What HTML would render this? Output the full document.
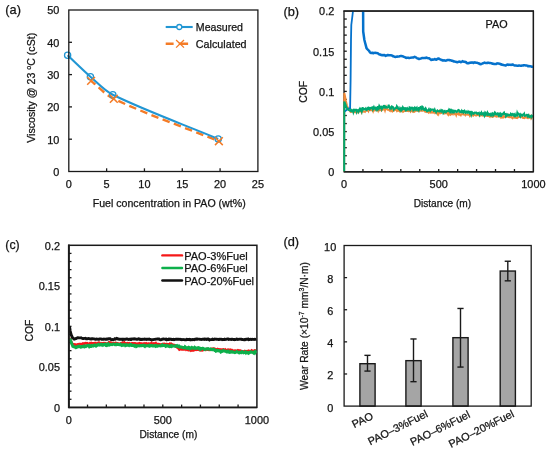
<!DOCTYPE html>
<html><head><meta charset="utf-8"><style>
html,body{margin:0;padding:0;background:#fff;width:550px;height:453px;overflow:hidden}
svg{display:block;will-change:transform}
text{font-family:"Liberation Sans", sans-serif;fill:#141414;stroke:#141414;stroke-width:0.25px}
</style></head><body>
<svg width="550" height="453" viewBox="0 0 550 453">
<rect width="550" height="453" fill="#fff"/>
<text x="5.30" y="13.90" font-size="12.4" text-anchor="start" textLength="15.6" lengthAdjust="spacingAndGlyphs" >(a)</text>
<text x="59.30" y="175.80" font-size="10.4" text-anchor="end" textLength="6.07" lengthAdjust="spacingAndGlyphs" >0</text>
<line x1="68.80" y1="139.20" x2="72.00" y2="139.20" stroke="#1a1a1a" stroke-width="1.3" />
<text x="59.30" y="143.50" font-size="10.4" text-anchor="end" textLength="12.14" lengthAdjust="spacingAndGlyphs" >10</text>
<line x1="68.80" y1="106.90" x2="72.00" y2="106.90" stroke="#1a1a1a" stroke-width="1.3" />
<text x="59.30" y="111.20" font-size="10.4" text-anchor="end" textLength="12.14" lengthAdjust="spacingAndGlyphs" >20</text>
<line x1="68.80" y1="74.60" x2="72.00" y2="74.60" stroke="#1a1a1a" stroke-width="1.3" />
<text x="59.30" y="78.90" font-size="10.4" text-anchor="end" textLength="12.14" lengthAdjust="spacingAndGlyphs" >30</text>
<line x1="68.80" y1="42.30" x2="72.00" y2="42.30" stroke="#1a1a1a" stroke-width="1.3" />
<text x="59.30" y="46.60" font-size="10.4" text-anchor="end" textLength="12.14" lengthAdjust="spacingAndGlyphs" >40</text>
<text x="59.30" y="14.30" font-size="10.4" text-anchor="end" textLength="12.14" lengthAdjust="spacingAndGlyphs" >50</text>
<text x="68.80" y="188.10" font-size="10.4" text-anchor="middle" textLength="6.07" lengthAdjust="spacingAndGlyphs" >0</text>
<line x1="106.62" y1="171.50" x2="106.62" y2="168.30" stroke="#1a1a1a" stroke-width="1.3" />
<text x="106.62" y="188.10" font-size="10.4" text-anchor="middle" textLength="6.07" lengthAdjust="spacingAndGlyphs" >5</text>
<line x1="144.44" y1="171.50" x2="144.44" y2="168.30" stroke="#1a1a1a" stroke-width="1.3" />
<text x="144.44" y="188.10" font-size="10.4" text-anchor="middle" textLength="12.14" lengthAdjust="spacingAndGlyphs" >10</text>
<line x1="182.26" y1="171.50" x2="182.26" y2="168.30" stroke="#1a1a1a" stroke-width="1.3" />
<text x="182.26" y="188.10" font-size="10.4" text-anchor="middle" textLength="12.14" lengthAdjust="spacingAndGlyphs" >15</text>
<line x1="220.08" y1="171.50" x2="220.08" y2="168.30" stroke="#1a1a1a" stroke-width="1.3" />
<text x="220.08" y="188.10" font-size="10.4" text-anchor="middle" textLength="12.14" lengthAdjust="spacingAndGlyphs" >20</text>
<text x="257.90" y="188.10" font-size="10.4" text-anchor="middle" textLength="12.14" lengthAdjust="spacingAndGlyphs" >25</text>
<text x="169.20" y="206.80" font-size="10.5" text-anchor="middle" textLength="153" lengthAdjust="spacingAndGlyphs" >Fuel concentration in PAO (wt%)</text>
<text transform="translate(34.9,87.8) rotate(-90)" font-size="10.4" text-anchor="middle" textLength="110" lengthAdjust="spacingAndGlyphs">Viscosity @ 23 <tspan font-size="7" dy="-3.6">o</tspan><tspan dy="3.6">C (cSt)</tspan></text>
<path d="M91.10,80.90 C98.67,86.87 105.14,94.71 113.80,98.80 C147.74,114.81 183.87,127.07 218.90,141.20" fill="none" stroke="#f47b26" stroke-width="2.4" stroke-dasharray="7.5,4.5" stroke-dashoffset="2"/>
<path d="M67.60,55.30 C75.20,62.43 82.56,69.85 90.40,76.70 C97.62,83.01 104.22,90.63 112.80,94.80 C146.82,111.36 183.07,124.20 218.20,138.90" fill="none" stroke="#2196d3" stroke-width="2.1"/>
<circle cx="67.60" cy="55.30" r="3.1" fill="none" stroke="#2196d3" stroke-width="1.3"/>
<circle cx="90.40" cy="76.70" r="3.1" fill="none" stroke="#2196d3" stroke-width="1.3"/>
<circle cx="112.80" cy="94.80" r="3.1" fill="none" stroke="#2196d3" stroke-width="1.3"/>
<circle cx="218.20" cy="138.90" r="3.1" fill="none" stroke="#2196d3" stroke-width="1.3"/>
<path d="M87.20,77.00 L95.00,84.80 M87.20,84.80 L95.00,77.00" stroke="#f47b26" stroke-width="1.5"/>
<path d="M109.90,94.90 L117.70,102.70 M109.90,102.70 L117.70,94.90" stroke="#f47b26" stroke-width="1.5"/>
<path d="M215.00,137.30 L222.80,145.10 M215.00,145.10 L222.80,137.30" stroke="#f47b26" stroke-width="1.5"/>
<rect x="68.8" y="10.0" width="189.10" height="161.50" fill="none" stroke="#1a1a1a" stroke-width="1.3"/>
<line x1="165.70" y1="27.00" x2="192.70" y2="27.00" stroke="#2196d3" stroke-width="2.1" />
<circle cx="179.3" cy="27" r="2.5" fill="#fff" stroke="#2196d3" stroke-width="1.3"/>
<text x="195.80" y="30.90" font-size="10.5" text-anchor="start" textLength="47.2" lengthAdjust="spacingAndGlyphs" >Measured</text>
<path d="M165.7,43.7 L173.6,43.7 M178.8,43.7 L188.1,43.7" stroke="#f47b26" stroke-width="2.4"/>
<path d="M176.1,40 L184,47.6 M176.1,47.6 L184,40" stroke="#f47b26" stroke-width="1.3"/>
<text x="195.80" y="47.60" font-size="10.5" text-anchor="start" textLength="50.8" lengthAdjust="spacingAndGlyphs" >Calculated</text>
<text x="283.40" y="15.60" font-size="12.4" text-anchor="start" textLength="15.6" lengthAdjust="spacingAndGlyphs" >(b)</text>
<text x="334.30" y="176.10" font-size="10.4" text-anchor="end" textLength="6.07" lengthAdjust="spacingAndGlyphs" >0</text>
<text x="334.30" y="135.90" font-size="10.4" text-anchor="end" textLength="21.25" lengthAdjust="spacingAndGlyphs" >0.05</text>
<text x="334.30" y="95.70" font-size="10.4" text-anchor="end" textLength="15.18" lengthAdjust="spacingAndGlyphs" >0.1</text>
<text x="334.30" y="55.50" font-size="10.4" text-anchor="end" textLength="21.25" lengthAdjust="spacingAndGlyphs" >0.15</text>
<text x="334.30" y="15.30" font-size="10.4" text-anchor="end" textLength="15.18" lengthAdjust="spacingAndGlyphs" >0.2</text>
<text x="344.00" y="187.90" font-size="10.4" text-anchor="middle" textLength="6.07" lengthAdjust="spacingAndGlyphs" >0</text>
<text x="438.70" y="187.90" font-size="10.4" text-anchor="middle" textLength="18.21" lengthAdjust="spacingAndGlyphs" >500</text>
<text x="533.40" y="187.90" font-size="10.4" text-anchor="middle" textLength="24.29" lengthAdjust="spacingAndGlyphs" >1000</text>
<text x="442.40" y="206.70" font-size="10.4" text-anchor="middle" textLength="57.5" lengthAdjust="spacingAndGlyphs" >Distance (m)</text>
<text transform="translate(307.0,91.9) rotate(-90)" font-size="10.4" text-anchor="middle">COF</text>
<text x="485.60" y="27.50" font-size="10.6" text-anchor="start" textLength="22" lengthAdjust="spacingAndGlyphs" >PAO</text>
<line x1="344.00" y1="163.76" x2="346.80" y2="163.76" stroke="#1a1a1a" stroke-width="1.3" />
<line x1="344.00" y1="155.72" x2="346.80" y2="155.72" stroke="#1a1a1a" stroke-width="1.3" />
<line x1="344.00" y1="147.68" x2="346.80" y2="147.68" stroke="#1a1a1a" stroke-width="1.3" />
<line x1="344.00" y1="139.64" x2="346.80" y2="139.64" stroke="#1a1a1a" stroke-width="1.3" />
<line x1="344.00" y1="131.60" x2="346.80" y2="131.60" stroke="#1a1a1a" stroke-width="1.3" />
<line x1="344.00" y1="123.56" x2="346.80" y2="123.56" stroke="#1a1a1a" stroke-width="1.3" />
<line x1="344.00" y1="115.52" x2="346.80" y2="115.52" stroke="#1a1a1a" stroke-width="1.3" />
<line x1="344.00" y1="107.48" x2="346.80" y2="107.48" stroke="#1a1a1a" stroke-width="1.3" />
<line x1="344.00" y1="99.44" x2="346.80" y2="99.44" stroke="#1a1a1a" stroke-width="1.3" />
<line x1="344.00" y1="91.40" x2="346.80" y2="91.40" stroke="#1a1a1a" stroke-width="1.3" />
<line x1="344.00" y1="83.36" x2="346.80" y2="83.36" stroke="#1a1a1a" stroke-width="1.3" />
<line x1="344.00" y1="75.32" x2="346.80" y2="75.32" stroke="#1a1a1a" stroke-width="1.3" />
<line x1="344.00" y1="67.28" x2="346.80" y2="67.28" stroke="#1a1a1a" stroke-width="1.3" />
<line x1="344.00" y1="59.24" x2="346.80" y2="59.24" stroke="#1a1a1a" stroke-width="1.3" />
<line x1="344.00" y1="51.20" x2="346.80" y2="51.20" stroke="#1a1a1a" stroke-width="1.3" />
<line x1="344.00" y1="43.16" x2="346.80" y2="43.16" stroke="#1a1a1a" stroke-width="1.3" />
<line x1="344.00" y1="35.12" x2="346.80" y2="35.12" stroke="#1a1a1a" stroke-width="1.3" />
<line x1="344.00" y1="27.08" x2="346.80" y2="27.08" stroke="#1a1a1a" stroke-width="1.3" />
<line x1="344.00" y1="19.04" x2="346.80" y2="19.04" stroke="#1a1a1a" stroke-width="1.3" />
<line x1="362.94" y1="171.80" x2="362.94" y2="169.00" stroke="#1a1a1a" stroke-width="1.3" />
<line x1="381.88" y1="171.80" x2="381.88" y2="169.00" stroke="#1a1a1a" stroke-width="1.3" />
<line x1="400.82" y1="171.80" x2="400.82" y2="169.00" stroke="#1a1a1a" stroke-width="1.3" />
<line x1="419.76" y1="171.80" x2="419.76" y2="169.00" stroke="#1a1a1a" stroke-width="1.3" />
<line x1="438.70" y1="171.80" x2="438.70" y2="169.00" stroke="#1a1a1a" stroke-width="1.3" />
<line x1="457.64" y1="171.80" x2="457.64" y2="169.00" stroke="#1a1a1a" stroke-width="1.3" />
<line x1="476.58" y1="171.80" x2="476.58" y2="169.00" stroke="#1a1a1a" stroke-width="1.3" />
<line x1="495.52" y1="171.80" x2="495.52" y2="169.00" stroke="#1a1a1a" stroke-width="1.3" />
<line x1="514.46" y1="171.80" x2="514.46" y2="169.00" stroke="#1a1a1a" stroke-width="1.3" />
<rect x="344.0" y="11.0" width="189.40" height="160.80" fill="none" stroke="#1a1a1a" stroke-width="1.3"/>
<path d="M344.20,171.50 L344.30,93.00 L345.00,96.00 L345.80,100.50 L346.40,103.00 L347.00,105.50 L347.50,106.83 L348.00,108.17 L348.50,109.50 L349.02,110.10 L349.55,110.70 L350.08,111.30 L350.60,111.90 L351.15,111.55 L351.70,111.73 L352.25,111.81 L352.80,111.38 L353.35,111.21 L353.90,111.16 L354.45,112.00 L355.00,112.35 L355.50,112.27 L356.00,112.42 L356.50,111.62 L357.00,112.04 L357.50,112.31 L358.00,112.63 L358.50,111.76 L359.00,111.71 L359.50,110.72 L360.00,111.24 L360.50,110.38 L361.00,110.52 L361.50,111.96 L362.00,110.45 L362.50,111.66 L363.00,111.71 L363.50,111.31 L364.00,111.58 L364.50,111.66 L365.00,111.92 L365.50,111.23 L366.00,110.76 L366.50,110.57 L367.00,110.24 L367.50,110.63 L368.00,110.28 L368.50,111.20 L369.00,109.76 L369.50,109.73 L370.00,109.76 L370.50,109.08 L371.00,111.12 L371.50,109.23 L372.00,109.84 L372.50,109.84 L373.00,111.06 L373.50,109.30 L374.00,110.48 L374.50,109.76 L375.00,109.84 L375.50,109.53 L376.00,110.15 L376.50,109.27 L377.00,109.58 L377.50,109.92 L378.00,110.86 L378.50,108.70 L379.00,110.29 L379.50,110.43 L380.00,109.64 L380.50,109.84 L381.00,109.45 L381.50,110.53 L382.00,110.02 L382.50,109.61 L383.00,109.47 L383.50,109.43 L384.00,109.42 L384.50,109.00 L385.00,110.55 L385.50,108.73 L386.00,107.20 L386.50,108.79 L387.00,109.29 L387.50,109.78 L388.00,109.63 L388.50,109.65 L389.00,109.97 L389.50,110.47 L390.00,109.85 L390.50,109.74 L391.00,111.07 L391.50,110.69 L392.00,109.75 L392.50,111.40 L393.00,111.05 L393.50,110.20 L394.00,109.64 L394.50,110.36 L395.00,109.96 L395.50,109.75 L396.00,109.57 L396.50,110.00 L397.00,111.08 L397.50,110.55 L398.00,109.83 L398.50,110.86 L399.00,110.85 L399.50,111.32 L400.00,111.69 L400.50,111.04 L401.00,110.89 L401.50,110.93 L402.00,110.35 L402.50,111.23 L403.00,111.92 L403.50,111.47 L404.00,111.13 L404.50,111.04 L405.01,110.71 L405.51,110.59 L406.02,110.79 L406.52,110.59 L407.03,110.77 L407.53,110.17 L408.04,111.09 L408.54,111.20 L409.05,110.54 L409.56,109.69 L410.06,110.74 L410.57,111.69 L411.07,110.93 L411.58,110.84 L412.08,110.77 L412.59,111.44 L413.09,110.75 L413.60,111.63 L414.11,111.11 L414.61,111.62 L415.12,111.22 L415.62,110.92 L416.13,110.08 L416.63,110.25 L417.14,110.50 L417.64,111.07 L418.15,110.97 L418.66,110.37 L419.16,110.78 L419.67,111.21 L420.17,110.65 L420.68,110.28 L421.18,110.16 L421.69,110.78 L422.19,110.77 L422.70,109.89 L423.23,110.58 L423.76,110.43 L424.29,110.37 L424.82,111.62 L425.35,111.89 L425.88,111.22 L426.41,111.61 L426.94,112.10 L427.47,111.73 L428.00,112.05 L428.50,112.56 L429.00,111.32 L429.50,112.18 L430.00,112.68 L430.50,112.72 L431.00,111.69 L431.50,112.34 L432.00,111.88 L432.50,112.58 L433.00,112.82 L433.50,112.69 L434.00,112.10 L434.50,112.04 L435.00,112.87 L435.50,112.13 L436.00,112.72 L436.50,112.92 L437.00,112.54 L437.50,113.99 L438.01,113.12 L438.51,114.08 L439.02,112.01 L439.52,111.28 L440.03,112.94 L440.53,113.26 L441.04,112.85 L441.54,112.89 L442.05,111.88 L442.55,112.33 L443.06,112.26 L443.56,112.73 L444.07,113.53 L444.57,113.32 L445.08,113.47 L445.58,112.93 L446.09,112.94 L446.59,113.28 L447.10,113.19 L447.60,114.07 L448.10,113.14 L448.61,114.47 L449.11,113.25 L449.62,114.08 L450.12,113.31 L450.63,114.49 L451.13,114.00 L451.64,114.03 L452.14,114.27 L452.65,113.57 L453.15,113.16 L453.66,112.50 L454.16,114.19 L454.67,113.62 L455.17,113.54 L455.68,113.86 L456.18,115.14 L456.69,113.42 L457.19,114.07 L457.70,113.92 L458.20,114.43 L458.71,113.26 L459.21,113.72 L459.72,114.58 L460.22,115.27 L460.73,115.51 L461.23,114.19 L461.74,114.33 L462.24,114.29 L462.75,113.57 L463.26,113.33 L463.76,114.53 L464.27,114.61 L464.77,114.42 L465.28,115.16 L465.78,114.12 L466.29,114.70 L466.79,114.59 L467.30,114.53 L467.81,114.85 L468.31,114.77 L468.82,114.82 L469.32,114.84 L469.83,115.82 L470.33,114.84 L470.84,115.32 L471.34,115.24 L471.85,114.69 L472.36,115.19 L472.86,114.41 L473.37,115.34 L473.87,114.51 L474.38,114.45 L474.88,114.92 L475.39,115.36 L475.89,115.55 L476.40,115.61 L476.90,115.03 L477.41,114.44 L477.91,115.15 L478.41,115.24 L478.91,114.57 L479.42,115.50 L479.92,115.35 L480.42,114.67 L480.92,115.28 L481.43,114.48 L481.93,114.52 L482.43,115.28 L482.94,114.41 L483.44,115.08 L483.94,114.51 L484.44,115.56 L484.95,115.05 L485.45,115.44 L485.95,114.62 L486.46,115.06 L486.96,115.95 L487.46,115.96 L487.96,114.67 L488.47,115.88 L488.97,116.25 L489.47,115.65 L489.98,116.52 L490.48,115.39 L490.98,115.63 L491.48,116.41 L491.99,116.77 L492.49,116.89 L492.99,115.59 L493.49,114.82 L494.00,115.86 L494.50,115.15 L495.01,115.71 L495.51,115.24 L496.02,116.47 L496.52,116.71 L497.03,116.67 L497.53,116.37 L498.04,116.33 L498.54,116.14 L499.05,116.50 L499.56,116.56 L500.06,116.72 L500.57,116.28 L501.07,117.51 L501.58,116.98 L502.08,117.48 L502.59,117.62 L503.09,116.42 L503.60,115.63 L504.11,117.10 L504.61,116.62 L505.12,116.78 L505.62,116.65 L506.13,116.86 L506.63,116.20 L507.14,116.64 L507.64,116.60 L508.15,116.86 L508.66,115.64 L509.16,117.11 L509.67,117.29 L510.17,116.19 L510.68,116.46 L511.18,117.00 L511.69,117.53 L512.19,117.35 L512.70,118.12 L513.21,117.56 L513.72,116.81 L514.22,116.76 L514.73,117.56 L515.24,117.03 L515.75,117.70 L516.25,118.00 L516.76,117.85 L517.27,118.05 L517.78,117.42 L518.28,117.33 L518.79,116.97 L519.30,116.85 L519.81,116.27 L520.31,116.67 L520.82,116.50 L521.33,116.24 L521.84,117.07 L522.34,117.49 L522.85,117.16 L523.36,118.04 L523.87,118.06 L524.37,118.13 L524.88,117.20 L525.39,116.42 L525.89,117.35 L526.40,117.49 L526.91,117.77 L527.42,117.68 L527.92,118.14 L528.43,117.39 L528.94,117.71 L529.45,116.91 L529.96,115.86 L530.46,116.61 L530.97,117.95 L531.48,116.54 L531.99,117.65 L532.49,117.02 L533.00,116.99" fill="none" stroke="#f08a3a" stroke-width="1.9"/>
<path d="M344.60,111.50 L348.40,108.60 L350.10,108.20 L350.60,80.00 L351.00,40.00 L351.30,25.00 L352.40,16.00 L353.60,6.00" fill="none" stroke="#0572cc" stroke-width="1.8"/>
<path d="M363.10,6.00 L363.20,31.50 L364.40,40.00 L365.10,42.70 L365.80,45.40 L366.50,48.10 L367.12,48.83 L367.73,49.57 L368.35,50.18 L368.97,50.73 L369.58,51.75 L370.20,52.58 L370.81,52.89 L371.42,52.97 L372.02,52.83 L372.63,52.76 L373.24,53.29 L373.85,53.05 L374.46,52.86 L375.07,52.72 L375.68,52.92 L376.28,53.06 L376.89,53.06 L377.50,53.15 L378.11,53.54 L378.73,53.97 L379.34,54.42 L379.96,54.64 L380.57,54.52 L381.19,55.09 L381.80,55.13 L382.42,55.21 L383.04,54.99 L383.66,55.15 L384.29,55.08 L384.91,55.21 L385.53,55.86 L386.15,55.54 L386.77,55.53 L387.39,55.11 L388.01,55.08 L388.64,55.24 L389.26,55.16 L389.88,55.20 L390.50,55.16 L391.14,55.18 L391.79,55.61 L392.43,55.69 L393.07,56.36 L393.71,56.36 L394.36,56.71 L395.00,56.88 L395.65,56.93 L396.31,56.61 L396.96,56.72 L397.62,56.51 L398.27,56.62 L398.93,56.51 L399.58,56.32 L400.24,56.00 L400.89,56.09 L401.55,56.04 L402.20,56.19 L402.81,56.24 L403.43,56.59 L404.04,56.92 L404.66,57.20 L405.27,57.48 L405.89,57.78 L406.50,57.93 L407.13,57.69 L407.76,57.64 L408.39,57.76 L409.01,57.95 L409.64,57.91 L410.27,57.85 L410.90,57.73 L411.53,57.61 L412.16,57.41 L412.79,57.38 L413.41,57.51 L414.04,57.14 L414.67,56.84 L415.30,57.15 L416.02,57.47 L416.75,58.00 L417.48,58.46 L418.20,58.54 L418.82,58.96 L419.44,59.00 L420.06,58.68 L420.69,58.58 L421.31,58.38 L421.93,58.05 L422.55,57.99 L423.17,58.01 L423.79,58.13 L424.41,58.07 L425.04,57.87 L425.66,57.98 L426.28,57.60 L426.90,57.66 L427.53,58.11 L428.16,58.22 L428.79,58.15 L429.41,58.44 L430.04,58.96 L430.67,59.43 L431.30,60.02 L431.97,59.61 L432.64,59.57 L433.31,59.64 L433.99,59.50 L434.66,58.98 L435.33,59.29 L436.00,59.71 L436.68,59.47 L437.35,58.87 L438.02,58.56 L438.70,58.41 L439.36,59.16 L440.01,59.33 L440.67,59.46 L441.33,59.94 L441.99,60.01 L442.64,60.56 L443.30,60.49 L443.95,60.34 L444.61,60.48 L445.26,60.67 L445.92,60.62 L446.57,60.51 L447.23,60.04 L447.88,60.01 L448.54,60.01 L449.19,60.01 L449.85,60.22 L450.50,60.14 L451.11,60.52 L451.72,60.67 L452.33,60.77 L452.94,61.01 L453.56,61.29 L454.17,61.61 L454.78,61.61 L455.39,61.76 L456.00,61.72 L456.61,62.13 L457.22,62.29 L457.82,62.05 L458.43,61.85 L459.04,61.59 L459.65,61.71 L460.26,61.76 L460.87,62.15 L461.48,61.95 L462.08,61.65 L462.69,61.16 L463.30,61.63 L463.98,61.84 L464.65,61.69 L465.32,62.06 L466.00,61.99 L466.68,63.02 L467.35,63.18 L468.02,63.25 L468.70,63.23 L469.31,62.71 L469.92,62.81 L470.52,62.56 L471.13,62.82 L471.74,62.40 L472.35,62.40 L472.96,62.78 L473.57,63.03 L474.18,62.59 L474.78,62.28 L475.39,62.56 L476.00,62.67 L476.60,62.64 L477.20,62.82 L477.80,63.03 L478.40,63.16 L479.00,63.45 L479.60,64.09 L480.23,64.06 L480.86,64.25 L481.49,63.88 L482.12,63.62 L482.75,63.28 L483.38,63.21 L484.02,62.89 L484.65,62.59 L485.28,62.85 L485.91,63.07 L486.54,63.00 L487.17,63.00 L487.80,62.74 L488.46,62.70 L489.11,62.94 L489.77,63.08 L490.43,63.11 L491.09,63.13 L491.74,63.28 L492.40,63.75 L493.00,63.86 L493.60,63.78 L494.20,64.08 L494.80,63.97 L495.40,63.97 L496.00,64.07 L496.60,63.71 L497.20,63.29 L497.80,63.58 L498.40,63.43 L499.00,63.72 L499.60,63.65 L500.22,64.07 L500.83,64.38 L501.45,64.14 L502.07,64.71 L502.68,64.88 L503.30,65.09 L503.91,65.07 L504.51,65.27 L505.12,65.38 L505.73,65.43 L506.33,64.93 L506.94,64.86 L507.55,64.47 L508.15,64.68 L508.76,64.91 L509.37,64.74 L509.97,64.83 L510.58,64.85 L511.19,64.99 L511.79,64.69 L512.40,64.52 L513.07,64.60 L513.75,65.19 L514.42,65.43 L515.10,65.38 L515.77,65.50 L516.45,65.60 L517.12,65.74 L517.80,65.80 L518.40,65.69 L519.00,65.45 L519.60,65.42 L520.20,65.82 L520.80,65.79 L521.40,65.66 L522.00,65.52 L522.60,65.49 L523.20,65.50 L523.80,65.30 L524.40,65.34 L525.00,65.34 L525.62,65.38 L526.23,65.49 L526.85,65.60 L527.47,65.75 L528.08,66.29 L528.70,66.05 L529.36,66.25 L530.01,66.30 L530.67,66.34 L531.33,66.51 L531.99,66.81 L532.64,66.77 L533.30,66.72" fill="none" stroke="#0572cc" stroke-width="2.5" stroke-linejoin="round"/>
<path d="M344.20,171.50 L344.30,101.50 L344.90,103.00 L345.50,104.50 L346.00,106.00 L346.50,107.50 L347.00,108.17 L347.50,108.83 L348.00,109.50 L348.52,109.76 L349.04,110.02 L349.56,110.28 L350.08,110.54 L350.60,110.80 L351.07,109.75 L351.53,110.26 L352.00,111.12 L352.47,110.70 L352.93,110.22 L353.40,112.15 L353.87,110.71 L354.33,109.94 L354.80,110.36 L355.27,109.84 L355.73,109.82 L356.20,109.80 L356.67,111.63 L357.13,110.27 L357.60,110.14 L358.07,110.47 L358.53,111.53 L359.00,109.87 L359.45,109.25 L359.90,111.55 L360.35,108.73 L360.80,109.12 L361.25,109.94 L361.70,111.29 L362.15,108.88 L362.60,107.29 L363.05,109.44 L363.50,108.77 L363.95,108.72 L364.40,109.33 L364.85,109.18 L365.30,109.15 L365.75,108.52 L366.20,109.73 L366.65,110.03 L367.10,108.86 L367.55,108.24 L368.00,109.03 L368.45,108.91 L368.90,107.65 L369.35,107.87 L369.80,109.06 L370.25,108.29 L370.70,107.95 L371.15,108.28 L371.60,108.09 L372.05,108.05 L372.50,106.47 L372.95,109.10 L373.40,108.23 L373.85,107.21 L374.30,108.48 L374.75,108.10 L375.20,107.77 L375.65,108.49 L376.10,109.51 L376.55,108.27 L377.00,108.86 L377.45,109.39 L377.90,106.93 L378.35,106.93 L378.80,107.94 L379.25,106.11 L379.70,106.95 L380.15,108.29 L380.60,108.27 L381.05,107.88 L381.50,105.84 L381.95,108.87 L382.40,107.88 L382.85,107.88 L383.30,107.65 L383.75,105.84 L384.20,105.77 L384.65,105.91 L385.10,108.39 L385.55,106.57 L386.00,106.74 L386.45,106.81 L386.90,107.51 L387.36,107.60 L387.81,107.47 L388.26,106.28 L388.71,104.66 L389.17,107.07 L389.62,107.55 L390.07,108.43 L390.52,107.54 L390.98,107.05 L391.43,107.83 L391.88,106.43 L392.33,106.66 L392.79,106.77 L393.24,107.85 L393.69,109.48 L394.14,108.71 L394.60,108.94 L395.05,108.30 L395.50,108.27 L395.95,107.74 L396.40,107.83 L396.85,106.19 L397.30,106.95 L397.75,107.05 L398.20,108.78 L398.65,108.95 L399.10,109.39 L399.55,109.83 L400.00,108.47 L400.45,109.38 L400.90,110.27 L401.35,108.89 L401.80,109.60 L402.25,108.75 L402.70,107.53 L403.15,108.75 L403.60,108.24 L404.05,108.94 L404.50,108.63 L404.95,109.20 L405.41,107.34 L405.87,110.40 L406.32,110.29 L406.77,108.92 L407.23,108.27 L407.69,108.89 L408.14,109.52 L408.60,109.41 L409.05,109.38 L409.50,107.50 L409.96,107.88 L410.42,109.89 L410.87,109.32 L411.33,107.85 L411.78,108.14 L412.24,107.73 L412.69,108.00 L413.15,109.78 L413.60,108.94 L414.06,109.84 L414.51,109.18 L414.97,107.69 L415.42,108.11 L415.88,110.48 L416.33,108.35 L416.79,107.75 L417.24,109.46 L417.69,108.75 L418.15,108.53 L418.61,109.63 L419.06,107.16 L419.51,108.50 L419.97,107.47 L420.43,107.00 L420.88,107.36 L421.33,108.95 L421.79,108.11 L422.25,106.57 L422.70,106.88 L423.18,109.28 L423.66,109.42 L424.15,107.92 L424.63,110.72 L425.11,109.07 L425.59,108.34 L426.07,109.27 L426.55,110.46 L427.04,111.37 L427.52,111.23 L428.00,110.21 L428.45,109.95 L428.90,109.21 L429.35,110.24 L429.80,110.00 L430.25,110.67 L430.70,109.57 L431.15,110.04 L431.60,109.84 L432.05,109.58 L432.50,109.58 L432.95,109.74 L433.40,109.65 L433.85,111.08 L434.30,110.94 L434.75,109.80 L435.20,111.14 L435.65,111.18 L436.10,112.16 L436.55,111.00 L437.00,110.83 L437.45,110.43 L437.90,111.03 L438.35,111.43 L438.81,111.24 L439.26,110.87 L439.71,111.49 L440.16,111.21 L440.61,111.30 L441.06,110.36 L441.52,111.16 L441.97,110.31 L442.42,110.31 L442.87,111.14 L443.32,112.84 L443.77,112.21 L444.23,111.32 L444.68,111.04 L445.13,111.96 L445.58,112.42 L446.03,112.37 L446.48,111.23 L446.94,111.37 L447.39,110.98 L447.84,110.96 L448.29,110.51 L448.74,110.94 L449.19,109.47 L449.65,110.03 L450.10,111.44 L450.55,110.56 L451.00,111.63 L451.45,110.30 L451.90,110.85 L452.35,111.55 L452.80,110.50 L453.25,110.60 L453.70,113.20 L454.15,111.03 L454.60,110.69 L455.05,110.74 L455.50,111.24 L455.95,111.27 L456.40,112.09 L456.85,112.06 L457.30,111.09 L457.75,110.98 L458.20,110.11 L458.65,109.91 L459.10,110.49 L459.55,111.77 L460.00,111.47 L460.45,111.97 L460.90,112.16 L461.35,111.30 L461.80,113.00 L462.25,111.13 L462.70,110.77 L463.15,110.87 L463.60,112.16 L464.06,111.40 L464.51,110.87 L464.97,111.81 L465.43,112.58 L465.89,111.76 L466.34,111.60 L466.80,112.72 L467.26,112.88 L467.71,112.94 L468.17,111.64 L468.63,112.36 L469.09,112.60 L469.54,110.96 L470.00,113.21 L470.46,112.73 L470.91,112.37 L471.37,114.49 L471.83,113.17 L472.29,112.34 L472.74,112.81 L473.20,113.46 L473.66,113.83 L474.11,113.25 L474.57,112.58 L475.03,112.69 L475.49,112.68 L475.94,112.55 L476.40,113.44 L476.85,113.22 L477.31,113.66 L477.76,113.04 L478.22,112.95 L478.67,113.52 L479.12,113.50 L479.58,114.74 L480.03,113.30 L480.49,114.01 L480.94,113.95 L481.40,112.95 L481.85,114.48 L482.30,114.29 L482.76,112.46 L483.21,114.40 L483.67,114.99 L484.12,113.71 L484.57,115.56 L485.03,114.63 L485.48,113.47 L485.94,114.71 L486.39,114.18 L486.85,113.35 L487.30,112.60 L487.75,114.38 L488.21,113.82 L488.66,114.82 L489.12,114.73 L489.57,113.95 L490.02,113.79 L490.48,115.59 L490.93,115.78 L491.39,115.01 L491.84,113.96 L492.30,113.27 L492.75,113.62 L493.20,115.29 L493.66,114.54 L494.11,113.79 L494.57,112.89 L495.02,113.85 L495.48,113.11 L495.93,113.69 L496.38,114.33 L496.84,114.66 L497.29,113.93 L497.75,113.40 L498.20,113.75 L498.65,115.13 L499.10,114.23 L499.55,112.71 L500.00,114.91 L500.45,114.24 L500.90,116.78 L501.35,114.03 L501.80,113.97 L502.25,113.84 L502.70,114.41 L503.15,113.77 L503.60,113.00 L504.05,112.57 L504.50,114.00 L504.95,113.94 L505.40,113.93 L505.85,116.15 L506.30,115.46 L506.75,115.64 L507.20,114.43 L507.65,114.94 L508.10,114.65 L508.55,114.66 L509.00,115.47 L509.46,115.45 L509.92,115.20 L510.38,115.02 L510.83,113.70 L511.29,114.05 L511.75,114.99 L512.21,114.52 L512.67,114.10 L513.12,114.94 L513.58,114.02 L514.04,114.07 L514.50,115.31 L514.96,114.49 L515.42,115.79 L515.88,115.24 L516.33,115.37 L516.79,115.64 L517.25,113.02 L517.71,114.28 L518.17,113.48 L518.62,114.02 L519.08,114.37 L519.54,115.49 L520.00,114.61 L520.46,115.89 L520.93,114.39 L521.39,114.58 L521.86,114.78 L522.32,115.54 L522.79,114.90 L523.25,114.39 L523.71,114.59 L524.18,113.81 L524.64,115.87 L525.11,115.81 L525.57,115.59 L526.04,115.49 L526.50,114.81 L526.96,114.91 L527.43,115.95 L527.89,114.87 L528.36,114.76 L528.82,116.68 L529.29,116.99 L529.75,116.07 L530.21,116.17 L530.68,115.96 L531.14,116.96 L531.61,115.66 L532.07,115.93 L532.54,116.34 L533.00,117.21" fill="none" stroke="#00a870" stroke-width="2.0"/>
<rect x="338.0" y="0" width="201.39999999999998" height="10.4" fill="#fff"/>
<line x1="343.40" y1="11.00" x2="534.00" y2="11.00" stroke="#1a1a1a" stroke-width="1.3" />
<line x1="533.40" y1="11.00" x2="533.40" y2="171.80" stroke="#1a1a1a" stroke-width="1.3" />
<line x1="344.00" y1="171.80" x2="533.40" y2="171.80" stroke="#1a1a1a" stroke-width="1.3" />
<text x="5.30" y="248.90" font-size="12.4" text-anchor="start" textLength="14.4" lengthAdjust="spacingAndGlyphs" >(c)</text>
<text x="60.00" y="411.60" font-size="10.4" text-anchor="end" textLength="6.07" lengthAdjust="spacingAndGlyphs" >0</text>
<text x="60.00" y="371.07" font-size="10.4" text-anchor="end" textLength="21.25" lengthAdjust="spacingAndGlyphs" >0.05</text>
<text x="60.00" y="330.55" font-size="10.4" text-anchor="end" textLength="15.18" lengthAdjust="spacingAndGlyphs" >0.1</text>
<text x="60.00" y="290.03" font-size="10.4" text-anchor="end" textLength="21.25" lengthAdjust="spacingAndGlyphs" >0.15</text>
<text x="60.00" y="249.50" font-size="10.4" text-anchor="end" textLength="15.18" lengthAdjust="spacingAndGlyphs" >0.2</text>
<text x="68.70" y="423.60" font-size="10.4" text-anchor="middle" textLength="6.07" lengthAdjust="spacingAndGlyphs" >0</text>
<text x="162.80" y="423.60" font-size="10.4" text-anchor="middle" textLength="18.21" lengthAdjust="spacingAndGlyphs" >500</text>
<text x="256.90" y="423.60" font-size="10.4" text-anchor="middle" textLength="24.29" lengthAdjust="spacingAndGlyphs" >1000</text>
<text x="168.40" y="438.00" font-size="10.4" text-anchor="middle" textLength="57.8" lengthAdjust="spacingAndGlyphs" >Distance (m)</text>
<text transform="translate(32.5,330.6) rotate(-90)" font-size="10.4" text-anchor="middle">COF</text>
<line x1="68.70" y1="399.29" x2="71.50" y2="399.29" stroke="#1a1a1a" stroke-width="1.3" />
<line x1="68.70" y1="391.19" x2="71.50" y2="391.19" stroke="#1a1a1a" stroke-width="1.3" />
<line x1="68.70" y1="383.08" x2="71.50" y2="383.08" stroke="#1a1a1a" stroke-width="1.3" />
<line x1="68.70" y1="374.98" x2="71.50" y2="374.98" stroke="#1a1a1a" stroke-width="1.3" />
<line x1="68.70" y1="366.88" x2="71.50" y2="366.88" stroke="#1a1a1a" stroke-width="1.3" />
<line x1="68.70" y1="358.77" x2="71.50" y2="358.77" stroke="#1a1a1a" stroke-width="1.3" />
<line x1="68.70" y1="350.66" x2="71.50" y2="350.66" stroke="#1a1a1a" stroke-width="1.3" />
<line x1="68.70" y1="342.56" x2="71.50" y2="342.56" stroke="#1a1a1a" stroke-width="1.3" />
<line x1="68.70" y1="334.45" x2="71.50" y2="334.45" stroke="#1a1a1a" stroke-width="1.3" />
<line x1="68.70" y1="326.35" x2="71.50" y2="326.35" stroke="#1a1a1a" stroke-width="1.3" />
<line x1="68.70" y1="318.25" x2="71.50" y2="318.25" stroke="#1a1a1a" stroke-width="1.3" />
<line x1="68.70" y1="310.14" x2="71.50" y2="310.14" stroke="#1a1a1a" stroke-width="1.3" />
<line x1="68.70" y1="302.03" x2="71.50" y2="302.03" stroke="#1a1a1a" stroke-width="1.3" />
<line x1="68.70" y1="293.93" x2="71.50" y2="293.93" stroke="#1a1a1a" stroke-width="1.3" />
<line x1="68.70" y1="285.83" x2="71.50" y2="285.83" stroke="#1a1a1a" stroke-width="1.3" />
<line x1="68.70" y1="277.72" x2="71.50" y2="277.72" stroke="#1a1a1a" stroke-width="1.3" />
<line x1="68.70" y1="269.62" x2="71.50" y2="269.62" stroke="#1a1a1a" stroke-width="1.3" />
<line x1="68.70" y1="261.51" x2="71.50" y2="261.51" stroke="#1a1a1a" stroke-width="1.3" />
<line x1="68.70" y1="253.41" x2="71.50" y2="253.41" stroke="#1a1a1a" stroke-width="1.3" />
<line x1="87.52" y1="407.40" x2="87.52" y2="404.60" stroke="#1a1a1a" stroke-width="1.3" />
<line x1="106.34" y1="407.40" x2="106.34" y2="404.60" stroke="#1a1a1a" stroke-width="1.3" />
<line x1="125.16" y1="407.40" x2="125.16" y2="404.60" stroke="#1a1a1a" stroke-width="1.3" />
<line x1="143.98" y1="407.40" x2="143.98" y2="404.60" stroke="#1a1a1a" stroke-width="1.3" />
<line x1="162.80" y1="407.40" x2="162.80" y2="404.60" stroke="#1a1a1a" stroke-width="1.3" />
<line x1="181.62" y1="407.40" x2="181.62" y2="404.60" stroke="#1a1a1a" stroke-width="1.3" />
<line x1="200.44" y1="407.40" x2="200.44" y2="404.60" stroke="#1a1a1a" stroke-width="1.3" />
<line x1="219.26" y1="407.40" x2="219.26" y2="404.60" stroke="#1a1a1a" stroke-width="1.3" />
<line x1="238.08" y1="407.40" x2="238.08" y2="404.60" stroke="#1a1a1a" stroke-width="1.3" />
<rect x="68.7" y="245.3" width="188.20" height="162.10" fill="none" stroke="#1a1a1a" stroke-width="1.5"/>
<path d="M69.60,338.00 L70.20,339.45 L70.80,340.90 L71.40,342.35 L72.00,343.80 L72.70,344.04 L73.40,344.28 L74.10,344.52 L74.80,344.47 L75.50,344.85 L76.12,345.09 L76.74,344.87 L77.36,344.60 L77.98,344.44 L78.60,344.42 L79.22,344.08 L79.84,344.07 L80.46,344.08 L81.08,344.44 L81.70,344.05 L82.36,344.13 L83.03,343.54 L83.69,343.76 L84.35,343.62 L85.01,343.30 L85.67,343.24 L86.34,343.45 L87.00,343.14 L87.61,343.45 L88.23,343.76 L88.84,343.95 L89.46,344.05 L90.08,343.25 L90.69,343.34 L91.30,343.09 L91.92,343.45 L92.53,343.38 L93.15,343.40 L93.77,343.49 L94.38,343.23 L95.00,343.31 L95.61,343.11 L96.22,343.86 L96.84,343.48 L97.45,343.44 L98.07,342.90 L98.69,342.72 L99.30,342.83 L99.91,343.36 L100.51,343.62 L101.12,343.61 L101.72,343.32 L102.33,343.92 L102.94,343.37 L103.54,343.14 L104.15,343.43 L104.76,343.13 L105.36,343.35 L105.97,343.68 L106.57,343.53 L107.18,343.60 L107.79,343.52 L108.39,343.27 L109.00,342.40 L109.60,342.55 L110.21,342.98 L110.82,342.71 L111.42,342.90 L112.03,343.22 L112.63,343.72 L113.24,343.16 L113.85,343.13 L114.45,343.35 L115.06,343.54 L115.67,343.07 L116.27,343.80 L116.88,343.37 L117.48,343.72 L118.09,343.51 L118.70,343.59 L119.30,344.00 L119.91,343.92 L120.51,343.71 L121.12,343.27 L121.73,343.15 L122.33,342.86 L122.94,343.74 L123.54,343.12 L124.15,342.50 L124.76,343.45 L125.36,343.82 L125.97,343.51 L126.58,343.72 L127.18,343.32 L127.79,343.20 L128.39,343.46 L129.00,343.56 L129.61,343.37 L130.22,343.91 L130.82,343.92 L131.43,343.75 L132.04,343.28 L132.65,343.45 L133.26,343.41 L133.87,343.47 L134.47,343.77 L135.08,343.51 L135.69,343.65 L136.30,343.88 L136.91,343.87 L137.52,344.46 L138.12,343.55 L138.73,343.61 L139.34,343.31 L139.95,343.50 L140.56,344.38 L141.17,343.58 L141.78,343.60 L142.38,343.90 L142.99,343.88 L143.60,344.14 L144.21,343.52 L144.82,343.98 L145.42,343.63 L146.03,343.39 L146.64,343.81 L147.25,343.99 L147.86,343.73 L148.47,343.58 L149.07,343.69 L149.68,343.81 L150.29,343.83 L150.90,343.59 L151.51,343.08 L152.12,343.93 L152.72,344.01 L153.33,343.63 L153.94,343.35 L154.55,343.48 L155.16,343.63 L155.77,343.20 L156.38,344.05 L156.98,344.19 L157.59,344.04 L158.20,344.17 L158.81,344.20 L159.42,344.48 L160.03,344.35 L160.63,344.62 L161.24,344.85 L161.85,344.41 L162.46,344.15 L163.07,343.90 L163.68,343.97 L164.28,343.87 L164.89,344.04 L165.50,344.22 L166.13,344.42 L166.77,344.03 L167.40,344.52 L168.03,344.37 L168.67,344.38 L169.30,344.28 L169.93,343.80 L170.57,344.26 L171.20,343.90 L171.83,344.61 L172.47,344.66 L173.10,345.17 L173.73,345.16 L174.37,345.20 L175.00,345.44 L175.63,345.76 L176.26,346.71 L176.89,347.01 L177.51,347.59 L178.14,347.92 L178.77,348.78 L179.40,349.57 L180.01,349.31 L180.62,348.95 L181.24,349.16 L181.85,349.42 L182.46,349.38 L183.08,349.13 L183.69,349.09 L184.30,349.21 L184.91,348.58 L185.53,348.89 L186.14,349.66 L186.75,349.24 L187.36,349.36 L187.97,350.01 L188.59,350.05 L189.20,350.14 L189.81,349.88 L190.43,349.40 L191.04,350.44 L191.65,350.19 L192.26,350.06 L192.88,350.43 L193.49,350.38 L194.10,350.13 L194.71,349.67 L195.32,349.74 L195.94,349.78 L196.55,349.66 L197.16,349.55 L197.78,349.46 L198.39,349.70 L199.00,349.68 L199.61,349.94 L200.22,350.24 L200.82,350.17 L201.43,350.03 L202.04,350.42 L202.65,350.32 L203.26,349.62 L203.86,349.49 L204.47,349.69 L205.08,349.45 L205.69,349.81 L206.30,349.22 L206.90,348.87 L207.51,349.55 L208.12,349.76 L208.73,349.20 L209.34,349.41 L209.94,349.88 L210.55,349.37 L211.16,349.07 L211.77,348.91 L212.38,348.88 L212.98,348.63 L213.59,348.87 L214.20,348.69 L214.81,349.09 L215.42,349.96 L216.02,349.41 L216.63,349.74 L217.24,350.00 L217.85,349.09 L218.46,349.37 L219.06,349.49 L219.67,349.47 L220.28,349.81 L220.89,349.62 L221.50,349.77 L222.10,349.64 L222.71,349.66 L223.32,349.49 L223.93,350.33 L224.54,350.07 L225.14,349.62 L225.75,350.34 L226.36,350.60 L226.97,350.20 L227.58,349.88 L228.18,349.71 L228.79,350.23 L229.40,350.03 L230.01,349.84 L230.62,350.23 L231.24,350.12 L231.85,350.14 L232.46,350.78 L233.07,350.79 L233.68,350.93 L234.30,350.77 L234.91,350.98 L235.52,350.66 L236.13,350.86 L236.74,351.01 L237.36,350.66 L237.97,350.24 L238.58,350.60 L239.19,350.61 L239.80,350.85 L240.42,350.62 L241.03,350.87 L241.64,351.15 L242.25,351.73 L242.86,351.86 L243.48,351.53 L244.09,351.70 L244.70,351.18 L245.33,351.45 L245.96,351.27 L246.58,351.53 L247.21,351.37 L247.84,351.12 L248.47,350.84 L249.09,351.30 L249.72,351.17 L250.35,351.30 L250.98,351.30 L251.61,350.53 L252.23,350.95 L252.86,350.86 L253.49,351.05 L254.12,351.17 L254.74,350.54 L255.37,350.68 L256.00,350.82" fill="none" stroke="#f51818" stroke-width="2.7"/>
<path d="M69.80,338.50 L70.40,340.06 L71.00,341.62 L71.60,343.18 L72.20,344.74 L72.80,346.30 L73.40,346.52 L74.00,346.73 L74.60,347.03 L75.20,347.03 L75.80,347.64 L76.40,347.62 L77.04,346.82 L77.68,346.61 L78.32,346.64 L78.96,346.15 L79.60,346.63 L80.24,346.67 L80.88,347.10 L81.52,346.51 L82.16,346.46 L82.80,346.68 L83.44,346.77 L84.08,346.06 L84.72,346.70 L85.36,346.06 L86.00,346.44 L86.64,346.00 L87.27,345.75 L87.91,345.30 L88.54,345.51 L89.18,346.53 L89.81,345.74 L90.45,346.22 L91.09,346.30 L91.72,345.64 L92.36,345.92 L92.99,346.10 L93.63,345.49 L94.26,345.12 L94.90,345.58 L95.51,345.45 L96.11,346.05 L96.72,345.62 L97.33,344.81 L97.93,344.89 L98.54,344.46 L99.15,345.01 L99.75,345.19 L100.36,344.81 L100.97,344.45 L101.57,344.96 L102.18,344.66 L102.79,345.13 L103.39,344.44 L104.00,344.42 L104.62,344.31 L105.24,344.08 L105.85,345.43 L106.47,345.56 L107.09,344.72 L107.71,344.93 L108.32,344.01 L108.94,344.82 L109.56,345.07 L110.18,344.62 L110.79,344.43 L111.41,344.59 L112.03,344.72 L112.65,344.46 L113.26,344.16 L113.88,344.27 L114.50,344.24 L115.10,344.74 L115.71,344.70 L116.31,344.77 L116.92,344.09 L117.52,344.33 L118.12,344.45 L118.73,344.48 L119.33,344.67 L119.94,344.70 L120.54,344.26 L121.15,345.06 L121.75,345.40 L122.35,345.01 L122.96,345.32 L123.56,344.86 L124.17,344.58 L124.77,344.90 L125.38,345.73 L125.98,345.45 L126.58,344.81 L127.19,345.27 L127.79,345.16 L128.40,345.09 L129.00,345.50 L129.61,344.84 L130.22,344.56 L130.82,344.58 L131.43,345.57 L132.04,345.59 L132.65,345.33 L133.26,345.20 L133.87,345.67 L134.47,346.09 L135.08,345.50 L135.69,345.64 L136.30,346.51 L136.91,346.19 L137.52,345.70 L138.12,345.77 L138.73,345.71 L139.34,345.90 L139.95,345.86 L140.56,345.52 L141.17,345.53 L141.78,345.73 L142.38,345.40 L142.99,345.57 L143.60,345.26 L144.20,345.97 L144.80,346.39 L145.40,345.63 L146.00,345.99 L146.60,345.88 L147.20,345.82 L147.80,345.67 L148.40,345.82 L149.00,346.17 L149.60,345.45 L150.20,346.04 L150.80,345.79 L151.40,345.38 L152.00,345.62 L152.60,345.99 L153.20,345.87 L153.80,345.97 L154.40,345.78 L155.00,345.63 L155.60,346.17 L156.20,345.65 L156.80,346.20 L157.40,346.17 L158.00,345.93 L158.61,345.85 L159.21,345.80 L159.82,345.87 L160.43,345.90 L161.04,345.88 L161.64,345.19 L162.25,344.84 L162.86,345.65 L163.46,345.60 L164.07,345.61 L164.68,345.76 L165.29,345.47 L165.89,346.37 L166.50,346.14 L167.11,345.98 L167.71,345.59 L168.32,346.17 L168.93,346.35 L169.54,346.71 L170.14,346.63 L170.75,345.95 L171.36,345.51 L171.96,346.34 L172.57,345.89 L173.18,345.93 L173.79,345.93 L174.39,346.18 L175.00,346.31 L175.64,345.88 L176.28,345.94 L176.93,345.63 L177.57,346.46 L178.21,346.60 L178.85,346.15 L179.49,347.09 L180.13,347.16 L180.77,346.87 L181.42,347.07 L182.06,347.16 L182.70,347.54 L183.30,347.71 L183.91,347.49 L184.51,347.81 L185.11,346.80 L185.72,347.27 L186.32,347.86 L186.93,348.22 L187.53,348.33 L188.13,347.69 L188.74,347.21 L189.34,347.54 L189.94,348.69 L190.55,348.40 L191.15,347.92 L191.76,347.40 L192.36,347.89 L192.96,347.88 L193.57,348.25 L194.17,348.30 L194.77,347.38 L195.38,347.87 L195.98,348.43 L196.59,348.15 L197.19,347.83 L197.79,347.73 L198.40,347.64 L199.00,348.96 L199.61,349.21 L200.22,348.56 L200.83,349.08 L201.44,348.38 L202.06,348.32 L202.67,348.24 L203.28,348.44 L203.89,348.85 L204.50,349.56 L205.11,349.37 L205.72,349.00 L206.33,348.97 L206.94,348.83 L207.56,349.02 L208.17,348.65 L208.78,348.95 L209.39,349.16 L210.00,349.45 L210.70,349.09 L211.40,349.53 L212.10,349.77 L212.80,349.58 L213.50,349.19 L214.20,349.68 L214.81,350.40 L215.42,350.29 L216.02,351.25 L216.63,351.02 L217.24,350.49 L217.85,350.55 L218.46,350.82 L219.06,350.98 L219.67,350.81 L220.28,351.04 L220.89,352.11 L221.50,351.81 L222.10,351.44 L222.71,351.10 L223.32,350.51 L223.93,351.04 L224.54,351.08 L225.14,351.26 L225.75,351.19 L226.36,351.69 L226.97,352.05 L227.58,351.56 L228.18,351.15 L228.79,351.66 L229.40,352.30 L230.01,352.20 L230.62,352.21 L231.24,351.53 L231.85,351.60 L232.46,352.07 L233.07,352.20 L233.68,352.14 L234.30,352.35 L234.91,352.56 L235.52,352.38 L236.13,352.03 L236.74,351.65 L237.36,352.13 L237.97,352.20 L238.58,352.24 L239.19,352.76 L239.80,352.33 L240.42,352.33 L241.03,352.69 L241.64,352.28 L242.25,351.67 L242.86,352.05 L243.48,352.72 L244.09,352.49 L244.70,352.55 L245.33,351.95 L245.96,352.84 L246.58,352.09 L247.21,352.19 L247.84,352.40 L248.47,353.27 L249.09,352.93 L249.72,352.48 L250.35,352.00 L250.98,352.25 L251.61,351.99 L252.23,352.11 L252.86,352.40 L253.49,352.95 L254.12,352.29 L254.74,352.95 L255.37,351.97 L256.00,353.02" fill="none" stroke="#0db04b" stroke-width="3.0"/>
<path d="M69.60,327.00 L70.20,331.00 L71.20,334.80 L71.90,336.30 L72.60,337.80 L73.40,338.50 L74.20,339.20 L75.00,338.90 L75.80,338.61 L76.43,338.40 L77.07,337.94 L77.70,337.68 L78.37,337.78 L79.03,337.85 L79.70,337.91 L80.37,337.88 L81.03,337.83 L81.70,338.17 L82.33,338.29 L82.96,338.46 L83.59,338.57 L84.21,338.34 L84.84,338.35 L85.47,338.31 L86.10,338.70 L86.73,338.71 L87.36,338.78 L87.99,338.64 L88.61,338.53 L89.24,338.62 L89.87,338.78 L90.50,338.98 L91.11,338.70 L91.73,338.91 L92.34,338.80 L92.95,338.81 L93.57,338.86 L94.18,338.87 L94.80,339.04 L95.41,339.21 L96.02,339.20 L96.64,339.04 L97.25,339.14 L97.86,339.19 L98.48,339.30 L99.09,339.26 L99.70,338.88 L100.32,338.86 L100.93,338.92 L101.55,339.21 L102.16,339.16 L102.77,339.33 L103.39,339.31 L104.00,339.02 L104.61,339.11 L105.21,339.25 L105.82,339.29 L106.42,338.96 L107.03,339.15 L107.63,339.06 L108.24,338.72 L108.84,338.85 L109.45,338.65 L110.05,338.68 L110.66,339.20 L111.26,339.66 L111.87,339.62 L112.47,339.49 L113.08,339.70 L113.68,339.51 L114.29,339.17 L114.89,338.72 L115.50,339.13 L116.11,338.74 L116.71,338.43 L117.32,338.70 L117.92,338.96 L118.53,338.92 L119.13,339.26 L119.74,339.22 L120.34,339.25 L120.95,339.32 L121.55,339.16 L122.16,339.22 L122.76,339.66 L123.37,339.26 L123.97,339.27 L124.58,339.35 L125.18,339.18 L125.79,339.19 L126.39,338.89 L127.00,338.97 L127.61,339.11 L128.21,339.38 L128.82,339.49 L129.42,339.25 L130.03,339.03 L130.63,339.48 L131.24,339.53 L131.84,339.02 L132.45,339.07 L133.05,338.98 L133.66,339.00 L134.26,338.80 L134.87,338.94 L135.47,339.00 L136.08,339.08 L136.68,339.36 L137.29,339.35 L137.89,339.07 L138.50,338.84 L139.11,338.95 L139.71,339.32 L140.32,339.47 L140.92,339.26 L141.53,339.48 L142.13,339.46 L142.74,339.25 L143.34,339.34 L143.95,339.29 L144.55,339.07 L145.16,339.09 L145.76,339.21 L146.37,339.50 L146.97,339.19 L147.58,339.28 L148.18,339.29 L148.79,339.28 L149.39,339.05 L150.00,339.41 L150.60,339.60 L151.20,339.75 L151.80,339.61 L152.40,339.73 L153.01,339.61 L153.61,339.64 L154.21,339.40 L154.81,339.39 L155.41,339.28 L156.01,339.09 L156.61,339.11 L157.21,338.99 L157.81,338.93 L158.42,339.04 L159.02,339.05 L159.62,339.57 L160.22,339.77 L160.82,339.74 L161.42,339.67 L162.02,339.32 L162.62,339.37 L163.22,339.06 L163.83,339.06 L164.43,339.09 L165.03,339.13 L165.63,339.38 L166.23,339.19 L166.83,339.71 L167.43,339.41 L168.03,339.52 L168.64,339.11 L169.24,339.39 L169.84,339.11 L170.44,339.25 L171.04,339.28 L171.64,339.45 L172.24,339.50 L172.84,339.48 L173.44,339.37 L174.05,339.72 L174.65,339.43 L175.25,339.38 L175.85,339.26 L176.45,339.31 L177.05,339.13 L177.65,339.15 L178.25,339.33 L178.85,339.21 L179.46,339.36 L180.06,339.23 L180.66,339.55 L181.26,339.41 L181.86,339.70 L182.46,339.61 L183.06,339.44 L183.66,339.57 L184.26,339.67 L184.87,339.79 L185.47,339.83 L186.07,339.75 L186.67,339.31 L187.27,339.50 L187.87,339.40 L188.47,339.44 L189.07,339.63 L189.67,339.34 L190.28,339.59 L190.88,339.92 L191.48,339.73 L192.08,339.47 L192.68,339.67 L193.28,339.54 L193.88,339.64 L194.48,339.73 L195.08,339.24 L195.69,339.35 L196.29,339.05 L196.89,339.06 L197.49,339.31 L198.09,339.10 L198.69,339.08 L199.29,339.12 L199.89,339.29 L200.49,339.38 L201.10,339.45 L201.70,339.30 L202.30,339.17 L202.90,339.34 L203.50,339.17 L204.10,339.10 L204.70,339.36 L205.30,339.20 L205.91,339.10 L206.51,339.44 L207.11,339.38 L207.71,338.93 L208.31,338.99 L208.91,339.54 L209.51,339.99 L210.11,339.61 L210.71,339.61 L211.32,339.62 L211.92,339.54 L212.52,339.10 L213.12,339.41 L213.72,339.43 L214.32,339.35 L214.92,339.04 L215.52,339.07 L216.12,339.19 L216.73,339.22 L217.33,339.33 L217.93,339.27 L218.53,339.50 L219.13,339.55 L219.73,339.23 L220.33,339.17 L220.93,339.34 L221.53,339.24 L222.14,339.57 L222.74,339.36 L223.34,339.40 L223.94,339.50 L224.54,339.21 L225.14,339.52 L225.74,339.40 L226.34,339.24 L226.94,339.17 L227.55,338.94 L228.15,338.89 L228.75,339.41 L229.35,339.36 L229.95,339.31 L230.55,339.37 L231.15,339.48 L231.75,339.27 L232.35,339.27 L232.96,339.37 L233.56,339.56 L234.16,339.51 L234.76,339.75 L235.36,339.52 L235.96,339.38 L236.56,339.11 L237.16,339.23 L237.76,339.42 L238.37,339.35 L238.97,339.32 L239.57,339.16 L240.17,339.15 L240.77,339.18 L241.37,339.26 L241.97,339.52 L242.57,339.54 L243.18,339.63 L243.78,339.73 L244.38,339.46 L244.98,339.67 L245.58,339.53 L246.18,339.20 L246.78,339.17 L247.38,339.26 L247.98,339.02 L248.59,339.64 L249.19,339.50 L249.79,339.60 L250.39,339.26 L250.99,339.34 L251.59,339.41 L252.19,339.25 L252.79,339.36 L253.39,339.37 L254.00,339.45 L254.60,339.18 L255.20,339.38 L255.80,339.33 L256.40,339.19" fill="none" stroke="#111" stroke-width="2.9"/>
<line x1="68.70" y1="407.40" x2="256.90" y2="407.40" stroke="#1a1a1a" stroke-width="1.5" />
<line x1="68.90" y1="244.60" x2="68.90" y2="408.10" stroke="#1a1a1a" stroke-width="1.9" />
<line x1="162.40" y1="255.40" x2="182.00" y2="255.40" stroke="#f51818" stroke-width="2.4" stroke-linecap="round"/>
<text x="184.20" y="259.70" font-size="11.2" text-anchor="start" textLength="63.6" lengthAdjust="spacingAndGlyphs" >PAO-3%Fuel</text>
<line x1="162.40" y1="267.95" x2="182.00" y2="267.95" stroke="#0db04b" stroke-width="2.4" stroke-linecap="round"/>
<text x="184.20" y="272.25" font-size="11.2" text-anchor="start" textLength="63.6" lengthAdjust="spacingAndGlyphs" >PAO-6%Fuel</text>
<line x1="162.40" y1="280.50" x2="182.00" y2="280.50" stroke="#111" stroke-width="2.4" stroke-linecap="round"/>
<text x="184.20" y="284.80" font-size="11.2" text-anchor="start" textLength="69.8" lengthAdjust="spacingAndGlyphs" >PAO-20%Fuel</text>
<text x="283.40" y="246.40" font-size="12.4" text-anchor="start" textLength="15.6" lengthAdjust="spacingAndGlyphs" >(d)</text>
<text x="330.20" y="411.60" font-size="10.4" text-anchor="middle" textLength="6.07" lengthAdjust="spacingAndGlyphs" >0</text>
<line x1="344.10" y1="373.98" x2="347.10" y2="373.98" stroke="#1a1a1a" stroke-width="1.3" />
<text x="330.20" y="379.48" font-size="10.4" text-anchor="middle" textLength="6.07" lengthAdjust="spacingAndGlyphs" >2</text>
<line x1="344.10" y1="341.86" x2="347.10" y2="341.86" stroke="#1a1a1a" stroke-width="1.3" />
<text x="330.20" y="347.36" font-size="10.4" text-anchor="middle" textLength="6.07" lengthAdjust="spacingAndGlyphs" >4</text>
<line x1="344.10" y1="309.74" x2="347.10" y2="309.74" stroke="#1a1a1a" stroke-width="1.3" />
<text x="330.20" y="315.24" font-size="10.4" text-anchor="middle" textLength="6.07" lengthAdjust="spacingAndGlyphs" >6</text>
<line x1="344.10" y1="277.62" x2="347.10" y2="277.62" stroke="#1a1a1a" stroke-width="1.3" />
<text x="330.20" y="283.12" font-size="10.4" text-anchor="middle" textLength="6.07" lengthAdjust="spacingAndGlyphs" >8</text>
<text x="330.20" y="251.00" font-size="10.4" text-anchor="middle" textLength="12.14" lengthAdjust="spacingAndGlyphs" >10</text>
<text transform="translate(307.6,326) rotate(-90)" font-size="10.4" text-anchor="middle" textLength="128" lengthAdjust="spacingAndGlyphs">Wear Rate (×10<tspan font-size="7" dy="-3.6">-7</tspan><tspan dy="3.6"> mm</tspan><tspan font-size="7" dy="-3.6">3</tspan><tspan dy="3.6">/N·m)</tspan></text>
<rect x="359.90" y="363.70" width="15.2" height="42.40" fill="#a5a5a5" stroke="#1a1a1a" stroke-width="1.4"/>
<line x1="367.50" y1="371.09" x2="367.50" y2="355.35" stroke="#1a1a1a" stroke-width="1.4" />
<line x1="364.40" y1="371.09" x2="370.60" y2="371.09" stroke="#1a1a1a" stroke-width="1.4" />
<line x1="364.40" y1="355.35" x2="370.60" y2="355.35" stroke="#1a1a1a" stroke-width="1.4" />
<text transform="translate(374.00,418.40) rotate(-26.5)" font-size="10.9" text-anchor="end">PAO</text>
<rect x="405.90" y="360.65" width="15.2" height="45.45" fill="#a5a5a5" stroke="#1a1a1a" stroke-width="1.4"/>
<line x1="413.50" y1="381.69" x2="413.50" y2="338.97" stroke="#1a1a1a" stroke-width="1.4" />
<line x1="410.40" y1="381.69" x2="416.60" y2="381.69" stroke="#1a1a1a" stroke-width="1.4" />
<line x1="410.40" y1="338.97" x2="416.60" y2="338.97" stroke="#1a1a1a" stroke-width="1.4" />
<text transform="translate(428.60,416.30) rotate(-26.5)" font-size="10.9" text-anchor="end">PAO–3%Fuel</text>
<rect x="452.90" y="337.68" width="15.2" height="68.42" fill="#a5a5a5" stroke="#1a1a1a" stroke-width="1.4"/>
<line x1="460.50" y1="367.07" x2="460.50" y2="308.46" stroke="#1a1a1a" stroke-width="1.4" />
<line x1="457.40" y1="367.07" x2="463.60" y2="367.07" stroke="#1a1a1a" stroke-width="1.4" />
<line x1="457.40" y1="308.46" x2="463.60" y2="308.46" stroke="#1a1a1a" stroke-width="1.4" />
<text transform="translate(470.90,417.00) rotate(-26.5)" font-size="10.9" text-anchor="end">PAO–6%Fuel</text>
<rect x="500.20" y="271.04" width="15.2" height="135.06" fill="#a5a5a5" stroke="#1a1a1a" stroke-width="1.4"/>
<line x1="507.80" y1="280.83" x2="507.80" y2="261.24" stroke="#1a1a1a" stroke-width="1.4" />
<line x1="504.70" y1="280.83" x2="510.90" y2="280.83" stroke="#1a1a1a" stroke-width="1.4" />
<line x1="504.70" y1="261.24" x2="510.90" y2="261.24" stroke="#1a1a1a" stroke-width="1.4" />
<text transform="translate(514.80,416.30) rotate(-26.5)" font-size="10.9" text-anchor="end">PAO–20%Fuel</text>
<rect x="344.1" y="245.5" width="187.10" height="160.60" fill="none" stroke="#1a1a1a" stroke-width="1.3"/>
</svg>
</body></html>
